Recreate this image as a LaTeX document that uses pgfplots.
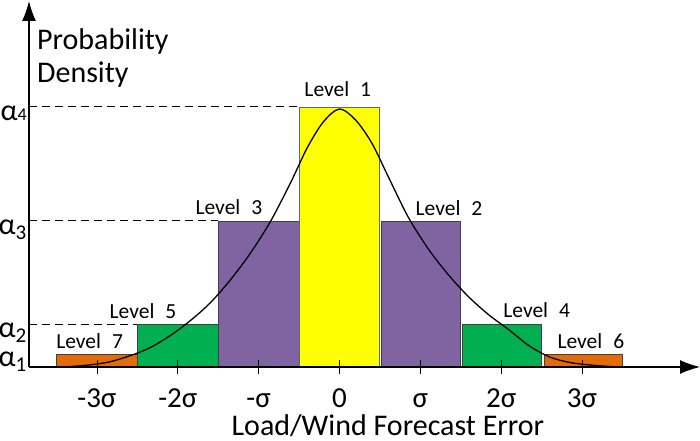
\documentclass[border=0pt]{standalone}
\usepackage{pgfplots}
\pgfplotsset{compat=1.18}
\usepackage{fontspec}
\setmainfont{Carlito}
\usetikzlibrary{arrows.meta}
\definecolor{barpurple}{HTML}{8064A2}
\definecolor{bargreen}{HTML}{00B050}
\definecolor{barorange}{HTML}{E36C09}
\definecolor{baryellow}{HTML}{FFFF00}
\newcommand{\lvl}[1]{Level\hspace{11bp}#1}
\begin{document}
\begin{tikzpicture}
\begin{axis}[
  scale only axis, width=671bp, height=366bp,
  xmin=-3.84, xmax=4.46, ymin=0, ymax=366,
  axis lines=left,
  axis line style={line width=1.3bp, -{Latex[length=20bp,width=14bp]}},
  xtick={-3,-2,-1,0,1,2,3},
  xticklabels={-3σ,-2σ,-σ,0,σ,2σ,3σ},
  ytick=\empty,
  tick align=center, major tick length=14bp,
  xtick style={line width=0.8bp, black},
  xticklabel style={anchor=base, yshift=-33bp, text depth=0pt, inner sep=0pt, font=\fontsize{29bp}{30bp}\selectfont},
  clip=false,
  axis on top,
  every node/.append style={inner sep=0pt},
]
\coordinate (O) at (axis cs:-3.84,0);
% bars
\addplot[fill=barorange, draw=black!75, line width=0.8bp] coordinates {(-3.5,0) (-3.5,13) (-2.5,13) (-2.5,0)} -- cycle;
\addplot[fill=bargreen, draw=black!75, line width=0.8bp] coordinates {(-2.5,0) (-2.5,43) (-1.5,43) (-1.5,0)} -- cycle;
\addplot[fill=barpurple, draw=black!75, line width=0.8bp] coordinates {(-1.5,0) (-1.5,146) (-0.5,146) (-0.5,0)} -- cycle;
\addplot[fill=baryellow, draw=black!60, line width=0.8bp] coordinates {(-0.5,0) (-0.5,260) (0.5,260) (0.5,0)} -- cycle;
\addplot[fill=barpurple, draw=black!75, line width=0.8bp] coordinates {(0.52,0) (0.52,146) (1.5,146) (1.5,0)} -- cycle;
\addplot[fill=bargreen, draw=black!75, line width=0.8bp] coordinates {(1.52,0) (1.52,43) (2.5,43) (2.5,0)} -- cycle;
\addplot[fill=barorange, draw=black!75, line width=0.8bp] coordinates {(2.53,0) (2.53,13) (3.5,13) (3.5,0)} -- cycle;
% dashed guide lines
\addplot[black, line width=1bp, dash pattern=on 8bp off 5bp] coordinates {(-3.84,260) (-0.5,260)};
\addplot[black, line width=1bp, dash pattern=on 8bp off 5bp] coordinates {(-3.84,146) (-1.5,146)};
\addplot[black, line width=1bp, dash pattern=on 8bp off 5bp] coordinates {(-3.84,43) (-2.5,43)};
% density curve
\addplot[black, line width=1.3bp, smooth] coordinates {
(-3.35,0.3) (-3.1,2) (-2.85,5) (-2.6,11) (-2.35,19) (-2.1,31) (-1.85,46) (-1.6,64)
(-1.35,87) (-1.1,114) (-0.85,146) (-0.6,185) (-0.4,219) (-0.2,245) (0,258)
(0.2,247) (0.4,224) (0.6,191) (0.85,150) (1.1,118) (1.35,92) (1.6,70) (1.85,52)
(2.1,37) (2.35,21) (2.6,10) (2.85,4.5) (3.1,2) (3.38,0.3)};
% level labels
\begin{scope}[every node/.style={anchor=base, inner sep=0pt, font=\fontsize{21.5bp}{23bp}\selectfont}]
\node at (axis cs:-0.02,270) {\lvl{1}};
\node at (axis cs:1.355,151) {\lvl{2}};
\node at (axis cs:-1.367,152) {\lvl{3}};
\node at (axis cs:2.44,50) {\lvl{4}};
\node at (axis cs:-2.43,49) {\lvl{5}};
\node at (axis cs:3.11,19) {\lvl{6}};
\node at (axis cs:-3.09,19) {\lvl{7}};
\end{scope}
% alpha labels
\begin{scope}[every node/.style={anchor=north east, inner sep=0pt, font=\fontsize{30bp}{30bp}\selectfont, xshift=-2bp}]
\node at (axis cs:-3.84,261) {α{\fontsize{18bp}{18bp}\selectfont 4}};
\node at (axis cs:-3.84,147) {α\textsubscript{3}};
\node at (axis cs:-3.84,44) {α\textsubscript{2}};
\node at (axis cs:-3.84,15) {α\textsubscript{1}};
\end{scope}
% y label
\node[anchor=base west, inner sep=0pt, font=\fontsize{30bp}{32bp}\selectfont] at (axis cs:-3.742,317) {Probability};
\node[anchor=base west, inner sep=0pt, font=\fontsize{30bp}{32bp}\selectfont] at (axis cs:-3.742,284) {Density};
% x label
\node[anchor=base, inner sep=0pt, font=\fontsize{30bp}{32bp}\selectfont] at (axis cs:0.6,0) [yshift=-68bp] {Load/Wind Forecast Error};
\end{axis}
\pgfresetboundingbox
\path ([xshift=-29bp,yshift=-74bp]O) rectangle ([xshift=671bp,yshift=367bp]O);
\end{tikzpicture}
\end{document}
